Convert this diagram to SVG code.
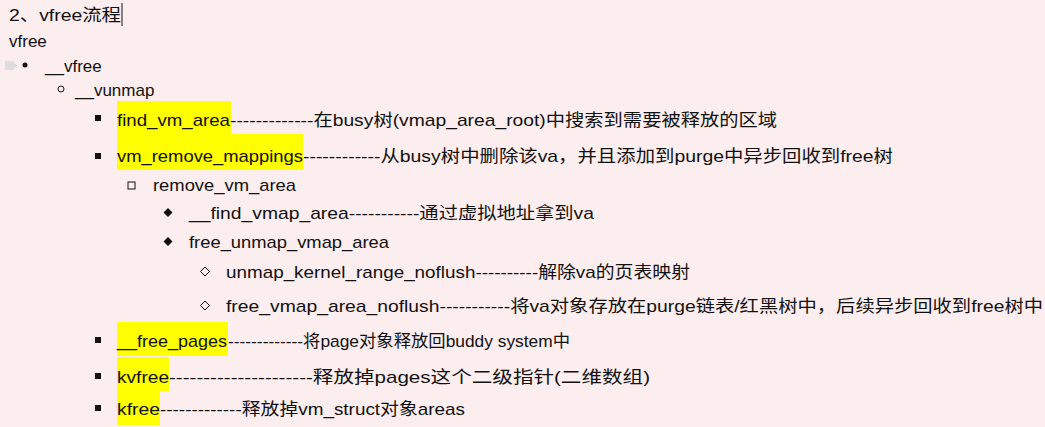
<svg xmlns="http://www.w3.org/2000/svg" width="1045" height="427" viewBox="0 0 1045 427">
<style>
text{font-family:"Liberation Sans","Noto Sans CJK SC",sans-serif;font-size:17px;fill:#111}
.hl{fill:#ffff00}
.sq{fill:#111}
</style>
<rect width="1045" height="427" fill="#fcedee"/>
<g id="title"><text x="9" y="21" textLength="112" lengthAdjust="spacingAndGlyphs">2、vfree流程</text><line x1="122" y1="3" x2="122" y2="26" stroke="#111"/></g>
<g id="vfree"><text x="9" y="47">vfree</text></g>
<g id="n_vfree"><path d="M5,61 h8 l4,4.5 l-4,4.5 h-8z" fill="#ddd"/><circle cx="25" cy="65" r="2.5" fill="#111"/><text x="45" y="72">__vfree</text></g>
<g id="n_vunmap"><circle cx="61" cy="89" r="3" fill="none" stroke="#111"/><text x="75" y="96">__vunmap</text></g>
<g id="n_find"><rect class="hl" x="117" y="101" width="114" height="33"/><rect class="sq" x="95" y="115" width="6" height="6"/><text x="117" y="126" textLength="113" lengthAdjust="spacingAndGlyphs">find_vm_area</text><text x="230" y="126" textLength="547" lengthAdjust="spacingAndGlyphs">-------------在busy树(vmap_area_root)中搜索到需要被释放的区域</text></g>
<g id="n_remove"><rect class="hl" x="117" y="134" width="186" height="36"/><rect class="sq" x="95" y="153" width="6" height="6"/><text x="117" y="162" textLength="186" lengthAdjust="spacingAndGlyphs">vm_remove_mappings</text><text x="303" y="162" textLength="590" lengthAdjust="spacingAndGlyphs">------------从busy树中删除该va，并且添加到purge中异步回收到free树</text></g>
<g id="n_rva"><rect x="128" y="182" width="7" height="7" fill="none" stroke="#111"/><text x="153" y="191" textLength="143" lengthAdjust="spacingAndGlyphs">remove_vm_area</text></g>
<g id="n_fva"><path d="M168,208 l4.5,4.5 l-4.5,4.5 l-4.5,-4.5z" fill="#111"/><text x="189" y="219" textLength="405" lengthAdjust="spacingAndGlyphs">__find_vmap_area-----------通过虚拟地址拿到va</text></g>
<g id="n_fuva"><path d="M168,237 l4.5,4.5 l-4.5,4.5 l-4.5,-4.5z" fill="#111"/><text x="189" y="248" textLength="200" lengthAdjust="spacingAndGlyphs">free_unmap_vmap_area</text></g>
<g id="n_ukr"><path d="M205,267 l4.5,4.5 l-4.5,4.5 l-4.5,-4.5z" fill="none" stroke="#111"/><text x="226" y="278" textLength="464" lengthAdjust="spacingAndGlyphs">unmap_kernel_range_noflush----------解除va的页表映射</text></g>
<g id="n_fvan"><path d="M205,301 l4.5,4.5 l-4.5,4.5 l-4.5,-4.5z" fill="none" stroke="#111"/><text x="226" y="312" textLength="817" lengthAdjust="spacingAndGlyphs">free_vmap_area_noflush-----------将va对象存放在purge链表/红黑树中，后续异步回收到free树中</text></g>
<g id="n_fp"><rect class="hl" x="117" y="322" width="111" height="34"/><rect class="sq" x="95" y="337" width="6" height="6"/><text x="117" y="347" textLength="110" lengthAdjust="spacingAndGlyphs">__free_pages</text><text x="228" y="347" textLength="342" lengthAdjust="spacingAndGlyphs">-------------将page对象释放回buddy system中</text></g>
<g id="n_kv"><rect class="hl" x="117" y="357" width="52" height="34"/><rect class="sq" x="95" y="373" width="6" height="6"/><text x="117" y="383" textLength="52" lengthAdjust="spacingAndGlyphs">kvfree</text><text x="169" y="383" textLength="481" lengthAdjust="spacingAndGlyphs">---------------------释放掉pages这个二级指针(二维数组)</text></g>
<g id="n_kf"><rect class="hl" x="117" y="391" width="43" height="34"/><rect class="sq" x="95" y="405" width="6" height="6"/><text x="117" y="415" textLength="43" lengthAdjust="spacingAndGlyphs">kfree</text><text x="160" y="415" textLength="305" lengthAdjust="spacingAndGlyphs">-------------释放掉vm_struct对象areas</text></g>
<g id="connectors"/>
</svg>
